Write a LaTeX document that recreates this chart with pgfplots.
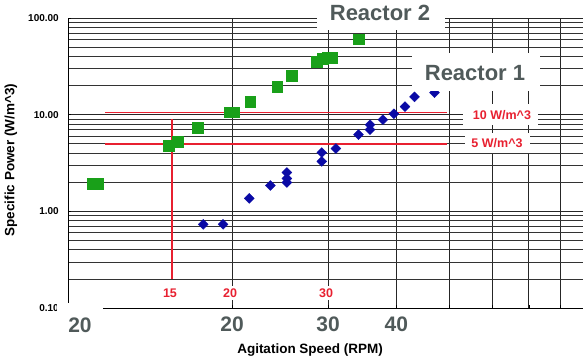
\documentclass[border=0pt]{standalone}
\usepackage{fontspec}
\setmainfont{Liberation Sans}
\usepackage{pgfplots}
\pgfplotsset{compat=1.18}
\definecolor{rgreen}{RGB}{25,160,25}
\definecolor{rblue}{RGB}{10,10,165}
\definecolor{rred}{RGB}{232,32,48}
\definecolor{tgray}{RGB}{80,90,90}
\begin{document}
\begin{tikzpicture}[x=1pt,y=1pt]
\useasboundingbox (-68,-50) rectangle (518,308);
\begin{axis}[
  at={(0,0)}, anchor=south west,
  scale only axis, width=515pt, height=290pt,
  xmode=log, ymode=log,
  xmin=10, xmax=88, ymin=0.1, ymax=100,
  axis x line*=bottom, axis y line*=left,
  axis line style={black, line width=0.8pt},
  xtick={10,20,30,40,50,60,70,80}, xticklabels={,20,30,40,,,,},
  minor xtick={},
  ytick={0.1,1,10,100}, yticklabels={0.10,1.00,10.00,100.00},
  minor ytick={0.2,0.3,0.4,0.5,0.6,0.7,0.8,0.9,2,3,4,5,6,7,8,9,20,30,40,50,60,70,80,90},
  grid=both,
  major grid style={black!85, line width=0.75pt},
  minor grid style={black!80, line width=0.65pt},
  tick style={black, line width=0.6pt}, major tick length=3pt, minor tick length=0pt,
  tick align=inside,
  xticklabel style={font=\fontsize{21}{21}\selectfont\bfseries, text=tgray, inner sep=0pt, yshift=-9pt},
  yticklabel style={font=\fontsize{10}{10}\selectfont\bfseries, inner sep=0pt, xshift=-9pt},
]
% reference lines
\addplot[rred, line width=1.6pt, forget plot] coordinates {(11.7,10.5) (49.6,10.5)};
\addplot[rred, line width=1.6pt, forget plot] coordinates {(11.7,5.0) (49.6,5.0)};
\addplot[rred, line width=1.6pt, forget plot] coordinates {(15.5,0.2) (15.5,9.1)};
% Reactor 2
\addplot[only marks, mark=square*, mark size=5.3pt, color=rgreen] coordinates {
  (11.1,1.92) (11.35,1.92) (15.3,4.79) (15.9,5.27) (17.3,7.35)
  (19.75,10.6) (20.17,10.6) (21.6,13.6) (24.2,19.4) (25.7,25.2)
  (28.6,35.1) (29.3,38.0) (29.9,38.7) (30.5,38.7) (34.1,60.6)};
% Reactor 1
\addplot[only marks, mark=square*, mark size=3.5pt, color=rblue, mark options={rotate=45}] coordinates {
  (17.7,0.734) (19.25,0.734) (21.5,1.36) (23.5,1.85)
  (25.2,2.52) (25.2,2.19) (25.2,1.99)
  (29.2,3.28) (29.2,4.06) (31.0,4.46) (34.1,6.22)
  (35.8,7.0) (35.8,7.87) (37.8,8.88) (39.6,10.2)
  (41.5,12.1) (43.2,15.3) (47.0,16.9)};
\end{axis}
% white label boxes and annotations
\fill[white] (249,278) rectangle (377,310);
\node[text=tgray, font=\fontsize{22}{22}\selectfont\bfseries] at (312,295) {Reactor 2};
\fill[white] (344,217) rectangle (472,255);
\node[text=tgray, font=\fontsize{22}{22}\selectfont\bfseries] at (407,235) {Reactor 1};
\fill[white] (395,183) rectangle (470,204);
\node[text=rred, font=\fontsize{12.5}{13}\selectfont\bfseries] at (434,193) {10 W/m\textasciicircum 3};
\fill[white] (397,155) rectangle (462,175);
\node[text=rred, font=\fontsize{12.5}{13}\selectfont\bfseries] at (429,165) {5 W/m\textasciicircum 3};
\node[fill=white, text=rred, inner sep=3pt, font=\fontsize{12.5}{13}\selectfont\bfseries] at (102,15) {15};
\node[fill=white, text=rred, inner sep=3pt, font=\fontsize{12.5}{13}\selectfont\bfseries] at (162,15) {20};
\node[fill=white, text=rred, inner sep=3pt, font=\fontsize{12.5}{13}\selectfont\bfseries] at (258,15) {30};
\fill[white] (-11,-8) rectangle (35,5);
\node[text=tgray, font=\fontsize{21}{21}\selectfont\bfseries] at (12,-17) {20};
\node[font=\fontsize{13.5}{13.5}\selectfont\bfseries] at (242,-42) {Agitation Speed (RPM)};
\node[rotate=90, font=\fontsize{13.5}{13.5}\selectfont\bfseries] at (-57,148) {Specific Power (W/m\textasciicircum 3)};
\end{tikzpicture}
\end{document}
